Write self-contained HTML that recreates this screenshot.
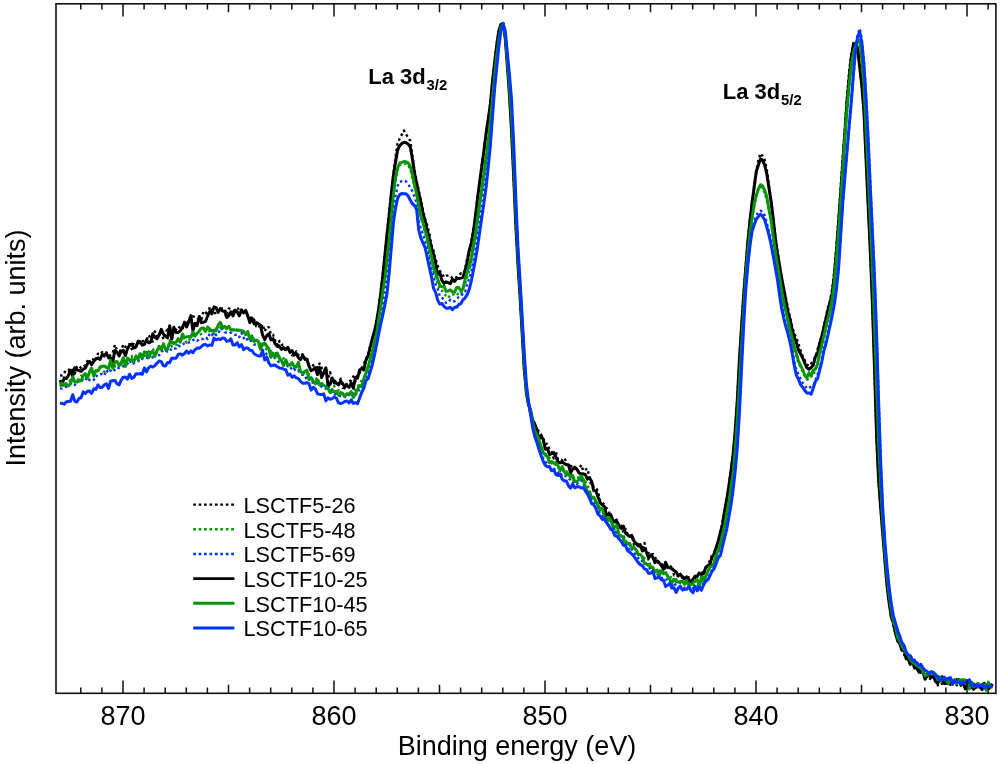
<!DOCTYPE html>
<html><head><meta charset="utf-8"><title>La 3d XPS</title>
<style>html,body{margin:0;padding:0;background:#fff}svg{display:block}text{font-family:"Liberation Sans",sans-serif;fill:#000}</style></head><body>
<svg width="1000" height="764" viewBox="0 0 1000 764">
<rect width="1000" height="764" fill="#fff"/>
<g fill="none" stroke-linejoin="round" stroke-linecap="butt">
<path d="M60.0 375.4 L62.1 375.5 L64.2 372.8 L66.3 369.9 L68.4 370.4 L70.5 367.9 L72.7 370.4 L74.8 373.6 L76.9 366.9 L79.0 365.6 L81.1 368.3 L83.2 367.0 L85.3 365.3 L87.4 361.1 L89.5 363.1 L91.6 364.6 L93.8 357.2 L95.9 359.1 L98.0 353.7 L100.1 354.7 L102.2 352.1 L104.3 356.4 L106.4 352.2 L108.5 356.3 L110.6 355.0 L112.7 353.1 L114.9 344.7 L117.0 350.2 L119.1 350.9 L121.2 350.5 L123.3 344.4 L125.4 346.9 L127.5 344.4 L129.6 344.1 L131.7 349.2 L133.8 342.4 L136.0 344.0 L138.1 346.1 L140.2 340.5 L142.3 341.1 L144.4 341.0 L146.5 340.0 L148.6 335.0 L150.7 338.3 L152.8 341.5 L154.9 331.4 L157.1 338.2 L159.2 335.0 L161.3 331.7 L163.4 339.3 L165.5 334.4 L167.6 327.3 L169.7 330.5 L171.8 331.2 L173.9 327.9 L176.0 329.8 L178.2 326.5 L180.3 328.0 L182.4 329.5 L184.5 321.8 L186.6 323.7 L188.7 320.6 L190.8 321.5 L192.9 316.3 L195.0 317.3 L197.1 317.5 L199.3 320.1 L201.4 320.0 L203.5 311.2 L205.6 312.0 L207.7 315.9 L209.8 306.7 L211.9 310.8 L214.0 311.2 L216.1 314.8 L218.2 312.3 L220.4 308.6 L222.5 308.4 L224.6 308.8 L226.7 314.6 L228.8 308.4 L230.9 309.0 L233.0 311.2 L235.1 309.9 L237.2 309.8 L239.3 307.1 L241.5 310.9 L243.6 309.9 L245.7 315.5 L247.8 315.1 L249.9 315.2 L252.0 320.2 L254.1 319.6 L256.2 326.2 L258.3 324.8 L260.4 328.6 L262.6 324.4 L264.7 331.4 L266.8 326.7 L268.9 327.4 L271.0 334.8 L273.1 334.8 L275.2 340.2 L277.3 348.9 L279.4 341.0 L281.5 343.6 L283.7 348.1 L285.8 350.7 L287.9 350.1 L290.0 351.3 L292.1 355.2 L294.2 355.4 L296.3 351.2 L298.4 355.1 L300.5 356.4 L302.6 354.2 L304.8 359.7 L306.9 357.6 L309.0 365.1 L311.1 364.2 L313.2 365.5 L315.3 364.9 L317.4 368.0 L319.5 363.4 L321.6 367.6 L323.7 373.9 L325.9 367.6 L328.0 378.8 L330.1 372.2 L332.2 381.8 L334.3 378.1 L336.4 384.6 L338.5 383.4 L340.6 378.7 L342.7 387.8 L344.8 388.2 L347.0 382.8 L349.1 381.2 L351.2 380.3 L353.3 376.4 L355.4 381.5 L357.5 374.5 L359.6 373.2 L361.7 367.9 L363.8 364.5 L365.9 358.3 L368.1 355.8 L370.2 345.6 L372.3 339.8 L374.4 330.9 L376.5 321.1 L378.6 308.7 L380.7 291.8 L382.8 274.5 L384.9 254.5 L387.0 233.6 L389.2 212.0 L391.3 191.6 L393.4 174.1 L395.5 157.2 L397.6 143.5 L399.7 138.5 L401.8 134.7 L403.9 130.4 L406.0 134.3 L408.1 137.4 L410.3 140.8 L412.4 156.5 L414.5 170.1 L416.6 181.3 L418.7 190.1 L420.8 201.0 L422.9 209.5 L425.0 218.4 L427.1 224.8 L429.2 232.7 L431.4 245.0 L433.5 250.6 L435.6 259.4 L437.7 265.8 L439.8 270.7 L441.9 273.1 L444.0 277.1 L446.1 275.6 L448.2 275.6 L450.3 275.6 L452.5 278.5 L454.6 277.6 L456.7 277.2 L458.8 275.2 L460.9 273.3 L463.0 277.0 L465.1 269.4 L467.2 258.4 L469.3 250.6 L471.4 240.7 L473.6 228.6 L475.7 213.3 L477.8 195.0 L479.9 180.4 L482.0 162.7 L484.1 148.9 L486.2 133.3 L488.3 118.2 L490.4 102.6 L492.5 83.3 L494.7 60.2 L496.8 42.9 L498.9 31.2 L501.0 22.5 L503.1 24.2 L505.2 38.5 L507.3 62.8 L509.4 93.0 L511.5 132.0 L513.6 175.5 L515.8 225.9 L517.9 262.6 L520.0 296.4 L522.1 331.2 L524.2 370.4 L526.3 391.2 L528.4 402.9 L530.5 414.2 L532.6 419.7 L534.7 426.0 L536.9 427.5 L539.0 432.0 L541.1 434.6 L543.2 438.2 L545.3 444.0 L547.4 443.9 L549.5 449.4 L551.6 451.7 L553.7 458.5 L555.8 451.3 L558.0 459.3 L560.1 458.5 L562.2 460.3 L564.3 458.0 L566.4 462.1 L568.5 466.8 L570.6 465.8 L572.7 467.5 L574.8 467.6 L576.9 472.1 L579.1 469.6 L581.2 464.9 L583.3 470.8 L585.4 469.6 L587.5 468.7 L589.6 478.8 L591.7 486.8 L593.8 486.8 L595.9 487.2 L598.0 491.7 L600.2 501.0 L602.3 502.1 L604.4 505.2 L606.5 508.1 L608.6 511.3 L610.7 516.3 L612.8 518.5 L614.9 520.4 L617.0 519.7 L619.1 526.4 L621.3 525.7 L623.4 532.8 L625.5 528.9 L627.6 534.0 L629.7 536.4 L631.8 534.9 L633.9 544.8 L636.0 546.0 L638.1 542.8 L640.2 548.0 L642.4 548.8 L644.5 542.9 L646.6 552.2 L648.7 553.1 L650.8 555.2 L652.9 553.9 L655.0 557.7 L657.1 559.6 L659.2 564.9 L661.3 564.2 L663.5 564.9 L665.6 570.3 L667.7 566.2 L669.8 567.8 L671.9 565.3 L674.0 575.3 L676.1 574.9 L678.2 576.1 L680.3 576.6 L682.4 576.2 L684.6 577.4 L686.7 576.8 L688.8 577.3 L690.9 578.0 L693.0 581.2 L695.1 577.9 L697.2 575.3 L699.3 572.7 L701.4 571.1 L703.5 574.4 L705.7 569.2 L707.8 565.1 L709.9 560.5 L712.0 555.1 L714.1 552.7 L716.2 549.2 L718.3 540.8 L720.4 531.8 L722.5 521.2 L724.6 510.7 L726.8 497.3 L728.9 485.4 L731.0 469.9 L733.1 454.5 L735.2 430.2 L737.3 398.9 L739.4 360.8 L741.5 325.4 L743.6 294.8 L745.7 267.6 L747.9 241.5 L750.0 219.1 L752.1 202.1 L754.2 187.3 L756.3 170.5 L758.4 160.2 L760.5 153.4 L762.6 156.1 L764.7 159.8 L766.8 169.3 L769.0 186.1 L771.1 199.1 L773.2 218.4 L775.3 236.7 L777.4 250.9 L779.5 264.2 L781.6 277.5 L783.7 286.9 L785.8 297.6 L787.9 307.4 L790.1 318.0 L792.2 327.2 L794.3 333.6 L796.4 338.0 L798.5 344.2 L800.6 350.2 L802.7 356.3 L804.8 360.4 L806.9 364.5 L809.0 366.1 L811.2 363.6 L813.3 361.1 L815.4 356.7 L817.5 349.7 L819.6 342.6 L821.7 335.8 L823.8 326.5 L825.9 317.2 L828.0 307.0 L830.1 300.7 L832.3 288.4 L834.4 270.4 L836.5 245.4 L838.6 217.6 L840.7 187.9 L842.8 156.5 L844.9 126.6 L847.0 96.5 L849.1 72.2 L851.2 54.7 L853.4 42.9 L855.5 42.1 L857.6 47.0 L859.7 66.8 L861.8 84.8 L863.9 110.3 L866.0 157.9 L868.1 203.0 L870.2 250.1 L872.3 301.2 L874.5 368.9 L876.6 436.6 L878.7 482.7 L880.8 509.7 L882.9 534.8 L885.0 562.6 L887.1 584.8 L889.2 601.7 L891.3 617.7 L893.4 625.9 L895.6 634.0 L897.7 641.5 L899.8 642.0 L901.9 648.4 L904.0 654.5 L906.1 658.3 L908.2 659.3 L910.3 664.8 L912.4 665.1 L914.5 663.9 L916.7 666.3 L918.8 672.0 L920.9 672.8 L923.0 668.9 L925.1 677.6 L927.2 677.1 L929.3 680.0 L931.4 676.9 L933.5 677.8 L935.6 676.5 L937.8 685.4 L939.9 679.6 L942.0 684.1 L944.1 679.3 L946.2 681.6 L948.3 677.7 L950.4 681.0 L952.5 684.5 L954.6 679.6 L956.7 685.3 L958.9 683.8 L961.0 680.8 L963.1 682.4 L965.2 682.7 L967.3 684.0 L969.4 683.1 L971.5 682.8 L973.6 684.6 L975.7 683.5 L977.8 683.3 L980.0 686.4 L982.1 688.6 L984.2 682.9 L986.3 686.5 L988.4 684.9 L990.5 684.2 L992.6 688.5" stroke="#000000" stroke-width="2.4" stroke-dasharray="2.5 2.9"/>
<path d="M60.0 384.4 L62.1 387.8 L64.2 382.3 L66.3 384.0 L68.4 381.9 L70.5 380.1 L72.7 382.1 L74.8 379.8 L76.9 380.6 L79.0 378.5 L81.1 375.6 L83.2 376.9 L85.3 376.4 L87.4 377.6 L89.5 372.9 L91.6 374.0 L93.8 369.7 L95.9 373.9 L98.0 369.5 L100.1 367.2 L102.2 370.1 L104.3 371.8 L106.4 365.5 L108.5 365.7 L110.6 365.6 L112.7 364.1 L114.9 366.5 L117.0 363.2 L119.1 362.7 L121.2 364.7 L123.3 361.1 L125.4 362.8 L127.5 359.1 L129.6 357.9 L131.7 355.8 L133.8 362.8 L136.0 357.5 L138.1 357.9 L140.2 356.6 L142.3 356.2 L144.4 355.2 L146.5 358.4 L148.6 351.4 L150.7 349.6 L152.8 350.0 L154.9 348.6 L157.1 352.2 L159.2 351.6 L161.3 347.1 L163.4 345.5 L165.5 346.9 L167.6 349.8 L169.7 340.2 L171.8 346.5 L173.9 342.4 L176.0 346.0 L178.2 340.8 L180.3 341.7 L182.4 338.4 L184.5 338.7 L186.6 342.8 L188.7 340.8 L190.8 337.4 L192.9 335.6 L195.0 332.6 L197.1 335.0 L199.3 334.9 L201.4 334.0 L203.5 333.2 L205.6 330.3 L207.7 331.8 L209.8 331.2 L211.9 333.2 L214.0 333.6 L216.1 328.6 L218.2 326.6 L220.4 327.6 L222.5 326.4 L224.6 326.3 L226.7 328.0 L228.8 326.4 L230.9 330.4 L233.0 329.5 L235.1 330.8 L237.2 330.4 L239.3 329.9 L241.5 330.2 L243.6 332.5 L245.7 332.8 L247.8 335.6 L249.9 336.7 L252.0 335.6 L254.1 340.4 L256.2 339.0 L258.3 342.1 L260.4 344.2 L262.6 342.0 L264.7 348.0 L266.8 349.6 L268.9 350.3 L271.0 351.2 L273.1 352.8 L275.2 353.0 L277.3 356.0 L279.4 356.8 L281.5 359.6 L283.7 358.3 L285.8 362.7 L287.9 363.8 L290.0 364.4 L292.1 364.8 L294.2 368.0 L296.3 364.3 L298.4 369.8 L300.5 370.5 L302.6 371.8 L304.8 373.3 L306.9 372.5 L309.0 374.7 L311.1 378.0 L313.2 379.0 L315.3 379.9 L317.4 377.7 L319.5 383.4 L321.6 386.1 L323.7 387.1 L325.9 386.9 L328.0 384.5 L330.1 391.0 L332.2 389.9 L334.3 386.1 L336.4 393.3 L338.5 390.3 L340.6 391.4 L342.7 393.2 L344.8 397.3 L347.0 393.6 L349.1 394.2 L351.2 396.2 L353.3 394.5 L355.4 389.4 L357.5 387.1 L359.6 382.9 L361.7 380.7 L363.8 378.4 L365.9 373.4 L368.1 366.4 L370.2 359.6 L372.3 350.1 L374.4 342.3 L376.5 333.1 L378.6 321.1 L380.7 307.5 L382.8 292.8 L384.9 277.3 L387.0 261.1 L389.2 239.7 L391.3 215.8 L393.4 195.1 L395.5 180.2 L397.6 170.2 L399.7 164.8 L401.8 164.0 L403.9 163.5 L406.0 163.9 L408.1 164.8 L410.3 169.7 L412.4 178.5 L414.5 186.9 L416.6 194.3 L418.7 209.3 L420.8 218.9 L422.9 223.7 L425.0 232.4 L427.1 241.3 L429.2 251.2 L431.4 262.3 L433.5 271.0 L435.6 277.3 L437.7 283.9 L439.8 289.8 L441.9 290.7 L444.0 293.4 L446.1 296.1 L448.2 298.0 L450.3 294.8 L452.5 294.5 L454.6 294.4 L456.7 295.5 L458.8 292.5 L460.9 293.5 L463.0 287.8 L465.1 283.8 L467.2 277.3 L469.3 271.2 L471.4 261.8 L473.6 248.5 L475.7 235.5 L477.8 221.0 L479.9 205.2 L482.0 189.8 L484.1 175.9 L486.2 159.7 L488.3 142.8 L490.4 123.0 L492.5 99.8 L494.7 75.2 L496.8 56.2 L498.9 38.1 L501.0 26.2 L503.1 24.2 L505.2 34.1 L507.3 58.5 L509.4 84.3 L511.5 114.6 L513.6 158.3 L515.8 211.6 L517.9 254.5 L520.0 287.7 L522.1 322.9 L524.2 361.3 L526.3 388.8 L528.4 404.0 L530.5 413.4 L532.6 422.9 L534.7 432.5 L536.9 436.6 L539.0 440.4 L541.1 447.2 L543.2 452.4 L545.3 453.7 L547.4 455.2 L549.5 457.9 L551.6 463.5 L553.7 462.7 L555.8 465.3 L558.0 467.5 L560.1 469.7 L562.2 469.4 L564.3 472.3 L566.4 471.3 L568.5 474.0 L570.6 474.5 L572.7 479.5 L574.8 477.9 L576.9 477.0 L579.1 477.9 L581.2 478.9 L583.3 482.7 L585.4 481.5 L587.5 485.4 L589.6 490.1 L591.7 498.9 L593.8 499.6 L595.9 501.1 L598.0 505.8 L600.2 511.4 L602.3 510.6 L604.4 513.3 L606.5 518.9 L608.6 520.5 L610.7 523.5 L612.8 524.1 L614.9 530.9 L617.0 533.1 L619.1 533.6 L621.3 536.3 L623.4 534.1 L625.5 541.1 L627.6 542.0 L629.7 545.3 L631.8 547.9 L633.9 548.3 L636.0 548.1 L638.1 553.7 L640.2 553.9 L642.4 556.7 L644.5 558.3 L646.6 560.7 L648.7 559.2 L650.8 567.0 L652.9 567.0 L655.0 570.0 L657.1 573.1 L659.2 571.2 L661.3 569.5 L663.5 572.5 L665.6 573.4 L667.7 575.9 L669.8 578.3 L671.9 576.0 L674.0 581.1 L676.1 579.1 L678.2 583.0 L680.3 582.9 L682.4 583.1 L684.6 583.9 L686.7 583.4 L688.8 583.4 L690.9 581.6 L693.0 584.2 L695.1 586.8 L697.2 586.1 L699.3 583.8 L701.4 581.4 L703.5 577.0 L705.7 577.5 L707.8 572.1 L709.9 568.6 L712.0 564.6 L714.1 561.0 L716.2 555.9 L718.3 550.7 L720.4 542.5 L722.5 534.3 L724.6 526.3 L726.8 514.0 L728.9 502.0 L731.0 488.7 L733.1 472.6 L735.2 450.5 L737.3 422.9 L739.4 386.7 L741.5 348.3 L743.6 311.1 L745.7 279.7 L747.9 253.2 L750.0 233.2 L752.1 216.9 L754.2 206.5 L756.3 195.0 L758.4 189.9 L760.5 186.8 L762.6 188.7 L764.7 193.0 L766.8 200.8 L769.0 210.2 L771.1 223.8 L773.2 236.9 L775.3 251.3 L777.4 266.1 L779.5 278.7 L781.6 291.3 L783.7 303.0 L785.8 311.9 L787.9 321.5 L790.1 331.1 L792.2 340.4 L794.3 350.6 L796.4 357.4 L798.5 362.4 L800.6 367.8 L802.7 371.8 L804.8 375.1 L806.9 379.6 L809.0 379.3 L811.2 375.9 L813.3 375.6 L815.4 369.4 L817.5 363.6 L819.6 355.7 L821.7 347.3 L823.8 337.8 L825.9 329.1 L828.0 319.5 L830.1 310.7 L832.3 299.8 L834.4 282.2 L836.5 259.6 L838.6 233.0 L840.7 202.0 L842.8 169.1 L844.9 139.7 L847.0 110.8 L849.1 85.6 L851.2 65.7 L853.4 51.8 L855.5 45.9 L857.6 41.7 L859.7 46.4 L861.8 61.3 L863.9 86.9 L866.0 127.2 L868.1 171.5 L870.2 217.7 L872.3 266.4 L874.5 322.3 L876.6 386.3 L878.7 443.1 L880.8 488.3 L882.9 522.7 L885.0 553.2 L887.1 577.2 L889.2 594.7 L891.3 609.4 L893.4 620.6 L895.6 626.7 L897.7 633.5 L899.8 640.2 L901.9 646.0 L904.0 650.3 L906.1 651.9 L908.2 656.9 L910.3 661.2 L912.4 662.9 L914.5 663.8 L916.7 664.4 L918.8 668.5 L920.9 668.3 L923.0 669.0 L925.1 670.9 L927.2 675.5 L929.3 674.9 L931.4 677.4 L933.5 675.8 L935.6 678.7 L937.8 677.1 L939.9 678.3 L942.0 682.9 L944.1 680.8 L946.2 679.3 L948.3 680.4 L950.4 681.4 L952.5 683.1 L954.6 680.8 L956.7 679.1 L958.9 681.6 L961.0 682.3 L963.1 682.7 L965.2 684.8 L967.3 683.6 L969.4 684.7 L971.5 682.1 L973.6 685.9 L975.7 688.5 L977.8 687.0 L980.0 686.4 L982.1 686.2 L984.2 688.8 L986.3 684.5 L988.4 685.8 L990.5 686.7 L992.6 687.2" stroke="#069406" stroke-width="2.4" stroke-dasharray="2.5 2.9"/>
<path d="M60.0 388.2 L62.1 388.6 L64.2 386.9 L66.3 386.8 L68.4 385.6 L70.5 383.3 L72.7 384.3 L74.8 385.0 L76.9 381.3 L79.0 381.7 L81.1 382.3 L83.2 378.8 L85.3 380.1 L87.4 377.3 L89.5 380.1 L91.6 381.2 L93.8 380.0 L95.9 375.6 L98.0 376.4 L100.1 374.6 L102.2 373.8 L104.3 375.4 L106.4 370.1 L108.5 373.1 L110.6 370.6 L112.7 372.1 L114.9 369.4 L117.0 367.3 L119.1 368.1 L121.2 368.0 L123.3 366.2 L125.4 366.1 L127.5 363.8 L129.6 360.4 L131.7 364.5 L133.8 363.4 L136.0 361.8 L138.1 360.9 L140.2 361.7 L142.3 358.6 L144.4 357.4 L146.5 357.5 L148.6 359.0 L150.7 354.1 L152.8 357.5 L154.9 353.8 L157.1 352.3 L159.2 355.3 L161.3 352.4 L163.4 349.7 L165.5 350.5 L167.6 351.8 L169.7 351.5 L171.8 348.1 L173.9 348.7 L176.0 348.4 L178.2 345.5 L180.3 346.3 L182.4 344.9 L184.5 343.3 L186.6 342.6 L188.7 342.6 L190.8 341.8 L192.9 340.0 L195.0 339.4 L197.1 341.0 L199.3 338.8 L201.4 339.1 L203.5 338.8 L205.6 337.1 L207.7 339.0 L209.8 333.4 L211.9 335.2 L214.0 332.6 L216.1 335.2 L218.2 334.2 L220.4 328.0 L222.5 329.5 L224.6 332.2 L226.7 332.8 L228.8 333.3 L230.9 332.6 L233.0 334.1 L235.1 335.0 L237.2 334.5 L239.3 337.1 L241.5 332.7 L243.6 338.2 L245.7 336.6 L247.8 340.9 L249.9 340.5 L252.0 341.1 L254.1 344.7 L256.2 344.2 L258.3 345.6 L260.4 346.0 L262.6 349.9 L264.7 352.1 L266.8 354.4 L268.9 353.9 L271.0 357.2 L273.1 356.9 L275.2 358.1 L277.3 360.6 L279.4 362.7 L281.5 361.8 L283.7 363.3 L285.8 364.7 L287.9 366.4 L290.0 366.0 L292.1 370.2 L294.2 369.0 L296.3 371.5 L298.4 370.6 L300.5 373.6 L302.6 374.9 L304.8 374.9 L306.9 380.1 L309.0 378.8 L311.1 382.5 L313.2 382.5 L315.3 381.4 L317.4 383.2 L319.5 385.9 L321.6 386.6 L323.7 388.0 L325.9 388.8 L328.0 387.6 L330.1 391.4 L332.2 389.3 L334.3 394.6 L336.4 393.9 L338.5 394.8 L340.6 396.4 L342.7 397.6 L344.8 395.1 L347.0 394.6 L349.1 395.2 L351.2 392.8 L353.3 393.3 L355.4 395.9 L357.5 390.1 L359.6 390.2 L361.7 384.6 L363.8 382.8 L365.9 377.6 L368.1 371.8 L370.2 364.8 L372.3 357.7 L374.4 348.1 L376.5 338.4 L378.6 326.7 L380.7 315.3 L382.8 303.1 L384.9 292.0 L387.0 278.0 L389.2 258.6 L391.3 231.9 L393.4 209.5 L395.5 195.9 L397.6 186.1 L399.7 181.9 L401.8 181.1 L403.9 180.5 L406.0 181.4 L408.1 184.1 L410.3 187.7 L412.4 191.4 L414.5 196.6 L416.6 202.5 L418.7 220.9 L420.8 228.4 L422.9 234.0 L425.0 240.7 L427.1 249.2 L429.2 258.6 L431.4 268.4 L433.5 276.9 L435.6 284.3 L437.7 288.6 L439.8 296.3 L441.9 297.3 L444.0 300.3 L446.1 303.0 L448.2 302.5 L450.3 299.7 L452.5 301.5 L454.6 301.3 L456.7 298.5 L458.8 297.2 L460.9 296.6 L463.0 292.9 L465.1 291.9 L467.2 283.5 L469.3 278.7 L471.4 270.6 L473.6 259.6 L475.7 247.3 L477.8 233.3 L479.9 218.6 L482.0 204.7 L484.1 188.6 L486.2 173.4 L488.3 155.6 L490.4 135.4 L492.5 108.9 L494.7 83.0 L496.8 61.9 L498.9 43.5 L501.0 28.8 L503.1 23.8 L505.2 33.3 L507.3 55.6 L509.4 77.6 L511.5 105.7 L513.6 149.6 L515.8 204.3 L517.9 249.5 L520.0 283.0 L522.1 318.1 L524.2 355.4 L526.3 384.7 L528.4 401.5 L530.5 413.0 L532.6 423.7 L534.7 431.8 L536.9 440.1 L539.0 444.9 L541.1 451.4 L543.2 458.2 L545.3 461.1 L547.4 464.5 L549.5 466.5 L551.6 467.8 L553.7 468.9 L555.8 470.0 L558.0 472.8 L560.1 471.7 L562.2 476.3 L564.3 475.8 L566.4 476.2 L568.5 478.4 L570.6 480.1 L572.7 482.3 L574.8 481.3 L576.9 484.0 L579.1 481.5 L581.2 480.1 L583.3 484.4 L585.4 485.7 L587.5 491.5 L589.6 496.8 L591.7 500.2 L593.8 501.0 L595.9 505.0 L598.0 511.5 L600.2 512.5 L602.3 515.0 L604.4 519.2 L606.5 523.8 L608.6 524.9 L610.7 526.0 L612.8 528.8 L614.9 531.7 L617.0 532.6 L619.1 534.4 L621.3 538.4 L623.4 539.6 L625.5 543.2 L627.6 545.8 L629.7 551.2 L631.8 549.3 L633.9 552.6 L636.0 554.8 L638.1 557.8 L640.2 560.9 L642.4 561.1 L644.5 562.8 L646.6 563.8 L648.7 566.7 L650.8 570.4 L652.9 571.4 L655.0 571.6 L657.1 574.0 L659.2 575.9 L661.3 577.9 L663.5 577.9 L665.6 579.7 L667.7 579.2 L669.8 581.5 L671.9 586.4 L674.0 582.7 L676.1 586.1 L678.2 587.5 L680.3 587.1 L682.4 586.8 L684.6 587.9 L686.7 588.1 L688.8 588.1 L690.9 585.8 L693.0 588.0 L695.1 586.7 L697.2 586.3 L699.3 586.3 L701.4 585.5 L703.5 583.6 L705.7 579.3 L707.8 577.7 L709.9 574.6 L712.0 571.0 L714.1 567.4 L716.2 562.0 L718.3 557.0 L720.4 551.8 L722.5 543.1 L724.6 535.2 L726.8 525.0 L728.9 514.3 L731.0 501.0 L733.1 486.1 L735.2 467.3 L737.3 443.0 L739.4 407.8 L741.5 365.9 L743.6 323.4 L745.7 287.3 L747.9 263.3 L750.0 243.3 L752.1 229.7 L754.2 222.0 L756.3 215.5 L758.4 211.9 L760.5 210.7 L762.6 211.5 L764.7 215.5 L766.8 222.8 L769.0 231.3 L771.1 240.2 L773.2 252.2 L775.3 264.6 L777.4 276.6 L779.5 290.3 L781.6 304.7 L783.7 314.9 L785.8 323.5 L787.9 331.7 L790.1 340.3 L792.2 350.5 L794.3 361.4 L796.4 369.9 L798.5 374.2 L800.6 379.1 L802.7 383.0 L804.8 385.5 L806.9 388.6 L809.0 388.1 L811.2 386.4 L813.3 385.5 L815.4 380.1 L817.5 374.5 L819.6 368.4 L821.7 360.0 L823.8 350.5 L825.9 340.5 L828.0 332.5 L830.1 323.4 L832.3 313.1 L834.4 301.8 L836.5 288.1 L838.6 266.7 L840.7 234.7 L842.8 203.7 L844.9 176.8 L847.0 152.4 L849.1 129.1 L851.2 105.1 L853.4 76.1 L855.5 51.9 L857.6 35.3 L859.7 28.4 L861.8 39.5 L863.9 61.1 L866.0 92.0 L868.1 134.1 L870.2 180.3 L872.3 226.0 L874.5 271.4 L876.6 330.7 L878.7 400.5 L880.8 463.7 L882.9 510.7 L885.0 543.5 L887.1 568.3 L889.2 587.3 L891.3 603.0 L893.4 615.2 L895.6 624.2 L897.7 630.9 L899.8 637.3 L901.9 642.1 L904.0 648.2 L906.1 653.4 L908.2 655.3 L910.3 655.9 L912.4 658.3 L914.5 659.8 L916.7 665.0 L918.8 664.1 L920.9 668.2 L923.0 669.0 L925.1 671.8 L927.2 672.4 L929.3 672.4 L931.4 673.5 L933.5 674.9 L935.6 676.0 L937.8 676.0 L939.9 677.3 L942.0 679.9 L944.1 676.7 L946.2 679.5 L948.3 678.6 L950.4 680.3 L952.5 681.5 L954.6 680.7 L956.7 682.0 L958.9 679.4 L961.0 682.8 L963.1 681.1 L965.2 682.8 L967.3 682.6 L969.4 679.6 L971.5 682.3 L973.6 684.2 L975.7 686.6 L977.8 685.7 L980.0 686.0 L982.1 684.0 L984.2 687.4 L986.3 687.8 L988.4 685.7 L990.5 685.4 L992.6 683.8" stroke="#0033ff" stroke-width="2.4" stroke-dasharray="2.5 2.9"/>
<path d="M60.0 380.1 L62.1 384.7 L64.2 377.9 L66.3 378.7 L68.4 375.6 L70.5 370.2 L72.7 376.3 L74.8 367.7 L76.9 369.9 L79.0 370.5 L81.1 371.4 L83.2 369.2 L85.3 368.2 L87.4 363.9 L89.5 361.4 L91.6 364.6 L93.8 361.4 L95.9 358.8 L98.0 358.0 L100.1 359.5 L102.2 354.5 L104.3 355.2 L106.4 353.4 L108.5 358.0 L110.6 357.8 L112.7 361.8 L114.9 350.4 L117.0 352.0 L119.1 355.9 L121.2 351.6 L123.3 350.4 L125.4 355.6 L127.5 348.6 L129.6 345.3 L131.7 344.0 L133.8 348.0 L136.0 347.1 L138.1 341.2 L140.2 341.5 L142.3 345.2 L144.4 344.4 L146.5 339.9 L148.6 342.8 L150.7 341.8 L152.8 333.9 L154.9 337.4 L157.1 338.8 L159.2 334.9 L161.3 329.4 L163.4 334.1 L165.5 336.3 L167.6 337.9 L169.7 325.7 L171.8 339.3 L173.9 327.2 L176.0 332.5 L178.2 332.5 L180.3 330.8 L182.4 327.4 L184.5 322.5 L186.6 327.0 L188.7 322.0 L190.8 315.6 L192.9 330.6 L195.0 323.3 L197.1 325.7 L199.3 316.5 L201.4 322.7 L203.5 322.2 L205.6 321.3 L207.7 315.8 L209.8 311.5 L211.9 313.8 L214.0 306.9 L216.1 307.6 L218.2 312.3 L220.4 308.6 L222.5 311.0 L224.6 311.2 L226.7 317.5 L228.8 315.7 L230.9 311.9 L233.0 315.9 L235.1 310.2 L237.2 311.7 L239.3 315.8 L241.5 309.7 L243.6 313.0 L245.7 310.4 L247.8 315.9 L249.9 322.7 L252.0 318.2 L254.1 323.8 L256.2 322.5 L258.3 323.6 L260.4 325.2 L262.6 335.1 L264.7 339.6 L266.8 335.7 L268.9 333.9 L271.0 340.0 L273.1 338.7 L275.2 344.1 L277.3 344.5 L279.4 346.4 L281.5 349.3 L283.7 347.5 L285.8 349.7 L287.9 347.3 L290.0 352.4 L292.1 350.5 L294.2 355.2 L296.3 353.5 L298.4 357.6 L300.5 359.6 L302.6 355.3 L304.8 358.4 L306.9 359.5 L309.0 366.2 L311.1 370.6 L313.2 369.7 L315.3 367.7 L317.4 374.6 L319.5 367.2 L321.6 377.6 L323.7 372.7 L325.9 367.9 L328.0 385.9 L330.1 384.3 L332.2 378.0 L334.3 383.1 L336.4 383.1 L338.5 385.0 L340.6 380.9 L342.7 383.6 L344.8 386.8 L347.0 385.5 L349.1 387.4 L351.2 382.9 L353.3 388.3 L355.4 377.6 L357.5 378.3 L359.6 370.0 L361.7 368.5 L363.8 370.0 L365.9 360.4 L368.1 355.8 L370.2 347.0 L372.3 338.5 L374.4 331.5 L376.5 322.1 L378.6 309.3 L380.7 293.9 L382.8 276.0 L384.9 255.3 L387.0 234.6 L389.2 215.4 L391.3 194.2 L393.4 175.5 L395.5 162.5 L397.6 150.0 L399.7 145.5 L401.8 143.6 L403.9 142.2 L406.0 142.7 L408.1 144.1 L410.3 147.1 L412.4 158.8 L414.5 173.2 L416.6 182.7 L418.7 192.9 L420.8 201.5 L422.9 213.1 L425.0 220.4 L427.1 229.7 L429.2 237.4 L431.4 247.7 L433.5 254.0 L435.6 263.2 L437.7 274.4 L439.8 272.5 L441.9 280.4 L444.0 283.4 L446.1 281.8 L448.2 282.6 L450.3 283.6 L452.5 279.3 L454.6 281.4 L456.7 278.5 L458.8 278.5 L460.9 278.1 L463.0 277.3 L465.1 270.4 L467.2 261.8 L469.3 249.9 L471.4 243.4 L473.6 230.1 L475.7 214.3 L477.8 196.3 L479.9 180.3 L482.0 165.2 L484.1 149.5 L486.2 132.4 L488.3 118.7 L490.4 103.9 L492.5 81.0 L494.7 62.1 L496.8 44.7 L498.9 30.5 L501.0 24.4 L503.1 23.3 L505.2 37.9 L507.3 65.1 L509.4 94.1 L511.5 130.7 L513.6 174.6 L515.8 224.8 L517.9 263.1 L520.0 295.6 L522.1 332.2 L524.2 368.5 L526.3 392.2 L528.4 404.5 L530.5 409.7 L532.6 420.2 L534.7 423.8 L536.9 429.8 L539.0 438.9 L541.1 436.0 L543.2 439.6 L545.3 449.2 L547.4 448.4 L549.5 454.5 L551.6 453.6 L553.7 452.5 L555.8 456.6 L558.0 461.8 L560.1 462.8 L562.2 462.0 L564.3 463.6 L566.4 464.7 L568.5 464.9 L570.6 472.8 L572.7 469.0 L574.8 467.0 L576.9 469.3 L579.1 473.0 L581.2 473.9 L583.3 473.8 L585.4 474.7 L587.5 479.1 L589.6 477.6 L591.7 481.7 L593.8 490.6 L595.9 491.0 L598.0 496.9 L600.2 502.8 L602.3 504.9 L604.4 506.6 L606.5 515.1 L608.6 514.3 L610.7 514.6 L612.8 520.2 L614.9 522.1 L617.0 521.6 L619.1 526.5 L621.3 528.4 L623.4 526.2 L625.5 533.1 L627.6 535.0 L629.7 536.6 L631.8 535.6 L633.9 540.8 L636.0 543.5 L638.1 545.8 L640.2 544.6 L642.4 551.0 L644.5 548.2 L646.6 552.6 L648.7 558.2 L650.8 554.9 L652.9 557.1 L655.0 562.7 L657.1 560.7 L659.2 562.6 L661.3 565.5 L663.5 569.1 L665.6 562.3 L667.7 567.1 L669.8 567.9 L671.9 568.8 L674.0 570.6 L676.1 571.9 L678.2 575.9 L680.3 574.1 L682.4 577.5 L684.6 579.0 L686.7 576.8 L688.8 579.3 L690.9 583.0 L693.0 579.3 L695.1 576.1 L697.2 576.5 L699.3 573.1 L701.4 574.6 L703.5 573.7 L705.7 567.4 L707.8 565.5 L709.9 564.2 L712.0 557.2 L714.1 554.0 L716.2 547.2 L718.3 541.1 L720.4 532.3 L722.5 524.6 L724.6 511.0 L726.8 499.0 L728.9 485.7 L731.0 471.0 L733.1 454.4 L735.2 431.1 L737.3 400.4 L739.4 359.9 L741.5 327.5 L743.6 296.1 L745.7 268.4 L747.9 240.8 L750.0 220.6 L752.1 202.5 L754.2 186.8 L756.3 171.5 L758.4 165.0 L760.5 158.9 L762.6 160.1 L764.7 165.1 L766.8 173.8 L769.0 188.3 L771.1 201.5 L773.2 218.9 L775.3 237.6 L777.4 252.8 L779.5 265.6 L781.6 277.6 L783.7 288.8 L785.8 300.5 L787.9 312.0 L790.1 319.3 L792.2 329.9 L794.3 336.9 L796.4 342.7 L798.5 350.1 L800.6 353.7 L802.7 358.1 L804.8 363.1 L806.9 367.8 L809.0 369.4 L811.2 367.5 L813.3 365.2 L815.4 356.6 L817.5 354.0 L819.6 343.9 L821.7 336.7 L823.8 328.3 L825.9 318.7 L828.0 309.8 L830.1 302.0 L832.3 292.5 L834.4 275.2 L836.5 249.8 L838.6 221.7 L840.7 192.5 L842.8 162.0 L844.9 132.5 L847.0 101.3 L849.1 78.5 L851.2 57.9 L853.4 44.9 L855.5 43.3 L857.6 48.6 L859.7 67.1 L861.8 85.7 L863.9 111.3 L866.0 158.7 L868.1 204.9 L870.2 249.2 L872.3 301.4 L874.5 368.2 L876.6 437.0 L878.7 481.6 L880.8 509.6 L882.9 535.7 L885.0 561.9 L887.1 586.6 L889.2 603.6 L891.3 617.0 L893.4 623.3 L895.6 633.5 L897.7 640.9 L899.8 643.9 L901.9 650.2 L904.0 649.2 L906.1 658.8 L908.2 658.7 L910.3 664.3 L912.4 660.7 L914.5 668.1 L916.7 667.9 L918.8 671.9 L920.9 669.8 L923.0 671.9 L925.1 679.3 L927.2 674.0 L929.3 675.4 L931.4 677.2 L933.5 676.3 L935.6 681.6 L937.8 683.2 L939.9 678.5 L942.0 676.7 L944.1 683.4 L946.2 683.6 L948.3 683.4 L950.4 684.4 L952.5 680.3 L954.6 682.1 L956.7 679.8 L958.9 679.9 L961.0 685.4 L963.1 682.1 L965.2 688.8 L967.3 684.3 L969.4 683.0 L971.5 686.6 L973.6 689.3 L975.7 687.0 L977.8 683.6 L980.0 687.3 L982.1 689.6 L984.2 685.4 L986.3 684.8 L988.4 688.8 L990.5 686.8 L992.6 684.0" stroke="#000000" stroke-width="3"/>
<path d="M60.0 384.9 L62.1 383.1 L64.2 385.2 L66.3 383.9 L68.4 386.0 L70.5 384.0 L72.7 376.8 L74.8 381.5 L76.9 382.1 L79.0 380.1 L81.1 380.9 L83.2 375.7 L85.3 373.7 L87.4 378.2 L89.5 371.8 L91.6 368.0 L93.8 376.1 L95.9 370.4 L98.0 370.7 L100.1 366.9 L102.2 366.3 L104.3 366.0 L106.4 367.4 L108.5 368.7 L110.6 360.4 L112.7 368.1 L114.9 361.9 L117.0 361.4 L119.1 365.5 L121.2 362.6 L123.3 357.7 L125.4 366.4 L127.5 358.0 L129.6 360.3 L131.7 359.4 L133.8 362.0 L136.0 356.0 L138.1 359.3 L140.2 353.6 L142.3 358.0 L144.4 352.0 L146.5 352.3 L148.6 357.8 L150.7 352.6 L152.8 351.2 L154.9 356.4 L157.1 350.4 L159.2 346.3 L161.3 349.8 L163.4 343.7 L165.5 349.4 L167.6 348.8 L169.7 343.0 L171.8 342.1 L173.9 343.5 L176.0 342.2 L178.2 338.7 L180.3 342.2 L182.4 334.0 L184.5 337.7 L186.6 336.9 L188.7 336.4 L190.8 337.2 L192.9 332.0 L195.0 336.2 L197.1 333.2 L199.3 331.0 L201.4 328.2 L203.5 327.9 L205.6 331.4 L207.7 327.0 L209.8 329.1 L211.9 331.1 L214.0 330.2 L216.1 330.8 L218.2 324.9 L220.4 322.3 L222.5 328.1 L224.6 326.3 L226.7 328.9 L228.8 326.3 L230.9 330.1 L233.0 329.7 L235.1 330.0 L237.2 330.0 L239.3 330.3 L241.5 330.6 L243.6 331.5 L245.7 334.6 L247.8 331.6 L249.9 339.6 L252.0 336.4 L254.1 341.4 L256.2 340.1 L258.3 341.3 L260.4 349.2 L262.6 344.2 L264.7 343.1 L266.8 346.2 L268.9 348.8 L271.0 357.3 L273.1 353.4 L275.2 356.9 L277.3 353.1 L279.4 358.4 L281.5 360.8 L283.7 365.5 L285.8 359.9 L287.9 364.8 L290.0 365.3 L292.1 362.7 L294.2 366.6 L296.3 367.0 L298.4 362.3 L300.5 371.7 L302.6 372.8 L304.8 371.4 L306.9 370.2 L309.0 379.6 L311.1 377.6 L313.2 381.2 L315.3 383.8 L317.4 379.8 L319.5 385.0 L321.6 383.4 L323.7 385.3 L325.9 386.7 L328.0 388.3 L330.1 392.7 L332.2 391.2 L334.3 391.6 L336.4 392.4 L338.5 395.1 L340.6 392.4 L342.7 394.0 L344.8 395.4 L347.0 393.7 L349.1 394.2 L351.2 391.7 L353.3 397.5 L355.4 393.9 L357.5 389.4 L359.6 385.5 L361.7 387.0 L363.8 378.8 L365.9 373.2 L368.1 367.1 L370.2 359.2 L372.3 352.5 L374.4 342.4 L376.5 334.4 L378.6 320.0 L380.7 307.2 L382.8 291.3 L384.9 278.4 L387.0 259.7 L389.2 239.2 L391.3 216.5 L393.4 194.6 L395.5 178.0 L397.6 168.2 L399.7 163.0 L401.8 162.4 L403.9 161.6 L406.0 161.7 L408.1 162.9 L410.3 166.4 L412.4 174.4 L414.5 184.8 L416.6 193.9 L418.7 204.6 L420.8 215.1 L422.9 222.2 L425.0 230.1 L427.1 236.9 L429.2 246.9 L431.4 255.5 L433.5 266.7 L435.6 273.0 L437.7 279.1 L439.8 285.4 L441.9 286.9 L444.0 286.1 L446.1 291.4 L448.2 291.0 L450.3 289.9 L452.5 292.0 L454.6 292.3 L456.7 287.4 L458.8 287.5 L460.9 291.1 L463.0 288.9 L465.1 279.4 L467.2 272.1 L469.3 265.6 L471.4 256.5 L473.6 244.3 L475.7 232.1 L477.8 216.0 L479.9 201.0 L482.0 187.8 L484.1 171.7 L486.2 156.6 L488.3 140.6 L490.4 122.1 L492.5 97.9 L494.7 74.6 L496.8 54.6 L498.9 39.6 L501.0 27.1 L503.1 23.3 L505.2 34.4 L507.3 58.7 L509.4 84.5 L511.5 116.2 L513.6 159.0 L515.8 211.3 L517.9 253.9 L520.0 287.0 L522.1 323.2 L524.2 360.6 L526.3 389.6 L528.4 402.4 L530.5 410.6 L532.6 421.7 L534.7 430.8 L536.9 434.4 L539.0 440.3 L541.1 446.4 L543.2 452.7 L545.3 455.1 L547.4 456.4 L549.5 462.7 L551.6 461.5 L553.7 463.2 L555.8 462.7 L558.0 465.6 L560.1 470.5 L562.2 466.6 L564.3 471.7 L566.4 475.0 L568.5 474.2 L570.6 477.4 L572.7 475.4 L574.8 481.5 L576.9 481.4 L579.1 479.6 L581.2 475.7 L583.3 479.5 L585.4 487.1 L587.5 491.8 L589.6 492.1 L591.7 498.0 L593.8 497.2 L595.9 501.6 L598.0 505.3 L600.2 509.5 L602.3 508.1 L604.4 516.8 L606.5 520.5 L608.6 517.6 L610.7 519.8 L612.8 526.4 L614.9 526.7 L617.0 525.3 L619.1 535.2 L621.3 536.1 L623.4 537.1 L625.5 545.4 L627.6 543.2 L629.7 543.4 L631.8 547.6 L633.9 547.1 L636.0 549.9 L638.1 554.6 L640.2 554.5 L642.4 556.8 L644.5 563.7 L646.6 563.8 L648.7 565.5 L650.8 566.6 L652.9 568.1 L655.0 571.9 L657.1 570.1 L659.2 575.8 L661.3 570.8 L663.5 573.8 L665.6 572.6 L667.7 576.3 L669.8 579.6 L671.9 582.9 L674.0 579.3 L676.1 581.9 L678.2 581.9 L680.3 581.6 L682.4 581.1 L684.6 584.3 L686.7 580.5 L688.8 584.8 L690.9 584.6 L693.0 582.8 L695.1 581.4 L697.2 579.6 L699.3 585.8 L701.4 577.3 L703.5 581.2 L705.7 576.5 L707.8 571.5 L709.9 566.6 L712.0 566.4 L714.1 563.3 L716.2 554.9 L718.3 550.2 L720.4 544.2 L722.5 534.5 L724.6 526.1 L726.8 513.0 L728.9 502.0 L731.0 486.6 L733.1 473.1 L735.2 449.6 L737.3 419.9 L739.4 384.6 L741.5 346.8 L743.6 311.8 L745.7 277.8 L747.9 252.9 L750.0 232.8 L752.1 217.5 L754.2 204.2 L756.3 195.4 L758.4 188.8 L760.5 184.7 L762.6 186.0 L764.7 190.2 L766.8 196.7 L769.0 209.8 L771.1 219.8 L773.2 236.0 L775.3 250.7 L777.4 263.9 L779.5 276.8 L781.6 290.3 L783.7 301.5 L785.8 311.5 L787.9 320.3 L790.1 329.8 L792.2 337.6 L794.3 347.2 L796.4 353.4 L798.5 361.1 L800.6 365.6 L802.7 369.4 L804.8 375.7 L806.9 377.7 L809.0 372.9 L811.2 376.1 L813.3 370.1 L815.4 369.1 L817.5 364.3 L819.6 353.0 L821.7 345.2 L823.8 336.0 L825.9 327.2 L828.0 318.5 L830.1 310.3 L832.3 297.8 L834.4 282.8 L836.5 257.5 L838.6 231.5 L840.7 201.2 L842.8 169.0 L844.9 136.8 L847.0 109.1 L849.1 85.2 L851.2 66.3 L853.4 53.1 L855.5 45.7 L857.6 40.7 L859.7 40.5 L861.8 57.1 L863.9 84.2 L866.0 128.6 L868.1 172.0 L870.2 218.0 L872.3 265.8 L874.5 324.7 L876.6 386.1 L878.7 445.2 L880.8 488.2 L882.9 523.5 L885.0 553.0 L887.1 575.9 L889.2 595.3 L891.3 609.7 L893.4 621.8 L895.6 627.0 L897.7 637.5 L899.8 641.3 L901.9 645.6 L904.0 649.4 L906.1 653.2 L908.2 655.5 L910.3 659.1 L912.4 662.3 L914.5 663.8 L916.7 663.2 L918.8 667.2 L920.9 667.6 L923.0 671.2 L925.1 676.0 L927.2 674.8 L929.3 674.2 L931.4 672.6 L933.5 673.9 L935.6 674.1 L937.8 679.6 L939.9 677.2 L942.0 679.4 L944.1 678.5 L946.2 680.4 L948.3 683.5 L950.4 679.6 L952.5 680.7 L954.6 680.0 L956.7 683.7 L958.9 680.1 L961.0 680.1 L963.1 679.8 L965.2 680.0 L967.3 684.2 L969.4 688.9 L971.5 682.0 L973.6 686.6 L975.7 685.8 L977.8 683.6 L980.0 685.5 L982.1 685.6 L984.2 684.7 L986.3 690.1 L988.4 682.1 L990.5 686.9 L992.6 686.8" stroke="#069406" stroke-width="3"/>
<path d="M60.0 402.8 L62.1 403.5 L64.2 404.2 L66.3 401.8 L68.4 401.5 L70.5 401.2 L72.7 394.7 L74.8 401.2 L76.9 402.0 L79.0 398.5 L81.1 397.7 L83.2 391.8 L85.3 393.6 L87.4 391.3 L89.5 391.0 L91.6 393.4 L93.8 388.8 L95.9 389.4 L98.0 384.8 L100.1 387.6 L102.2 387.3 L104.3 384.8 L106.4 383.9 L108.5 388.5 L110.6 381.2 L112.7 380.7 L114.9 380.4 L117.0 383.7 L119.1 384.8 L121.2 380.2 L123.3 377.2 L125.4 376.9 L127.5 379.2 L129.6 374.2 L131.7 378.4 L133.8 377.4 L136.0 373.8 L138.1 374.1 L140.2 373.5 L142.3 374.3 L144.4 368.0 L146.5 371.9 L148.6 367.8 L150.7 366.1 L152.8 367.1 L154.9 365.6 L157.1 363.1 L159.2 361.0 L161.3 361.6 L163.4 365.7 L165.5 366.0 L167.6 362.4 L169.7 362.7 L171.8 358.2 L173.9 358.3 L176.0 358.2 L178.2 354.5 L180.3 353.8 L182.4 355.2 L184.5 353.5 L186.6 351.0 L188.7 353.2 L190.8 350.9 L192.9 352.7 L195.0 349.7 L197.1 348.1 L199.3 348.2 L201.4 346.6 L203.5 344.7 L205.6 344.4 L207.7 346.0 L209.8 344.9 L211.9 345.4 L214.0 338.1 L216.1 339.8 L218.2 338.9 L220.4 339.5 L222.5 338.1 L224.6 338.2 L226.7 341.4 L228.8 340.9 L230.9 338.9 L233.0 345.0 L235.1 345.1 L237.2 342.7 L239.3 346.7 L241.5 344.5 L243.6 349.6 L245.7 348.0 L247.8 348.0 L249.9 350.2 L252.0 350.5 L254.1 353.8 L256.2 355.0 L258.3 356.0 L260.4 356.1 L262.6 350.9 L264.7 360.0 L266.8 357.1 L268.9 362.9 L271.0 365.9 L273.1 365.3 L275.2 365.1 L277.3 366.7 L279.4 367.9 L281.5 368.2 L283.7 369.2 L285.8 369.7 L287.9 375.3 L290.0 374.0 L292.1 377.2 L294.2 375.9 L296.3 377.9 L298.4 378.6 L300.5 381.2 L302.6 383.3 L304.8 383.3 L306.9 382.7 L309.0 383.7 L311.1 390.1 L313.2 387.4 L315.3 388.7 L317.4 393.8 L319.5 394.4 L321.6 394.6 L323.7 393.9 L325.9 400.9 L328.0 397.9 L330.1 399.2 L332.2 398.6 L334.3 397.0 L336.4 398.2 L338.5 402.8 L340.6 403.6 L342.7 402.9 L344.8 401.4 L347.0 401.0 L349.1 403.0 L351.2 399.8 L353.3 403.5 L355.4 402.5 L357.5 403.8 L359.6 397.9 L361.7 392.4 L363.8 388.3 L365.9 380.6 L368.1 378.7 L370.2 371.8 L372.3 364.7 L374.4 355.3 L376.5 345.2 L378.6 334.4 L380.7 324.2 L382.8 315.0 L384.9 304.6 L387.0 293.8 L389.2 272.6 L391.3 247.9 L393.4 222.9 L395.5 208.3 L397.6 198.3 L399.7 194.7 L401.8 193.4 L403.9 193.7 L406.0 193.7 L408.1 195.9 L410.3 200.2 L412.4 203.6 L414.5 205.6 L416.6 209.4 L418.7 229.9 L420.8 237.8 L422.9 242.9 L425.0 247.4 L427.1 256.6 L429.2 266.8 L431.4 276.6 L433.5 288.2 L435.6 292.4 L437.7 300.2 L439.8 304.1 L441.9 303.4 L444.0 306.3 L446.1 308.2 L448.2 308.2 L450.3 307.4 L452.5 309.6 L454.6 307.3 L456.7 307.2 L458.8 304.5 L460.9 303.6 L463.0 299.8 L465.1 297.8 L467.2 294.7 L469.3 289.1 L471.4 280.5 L473.6 269.2 L475.7 258.3 L477.8 245.2 L479.9 230.6 L482.0 216.1 L484.1 201.9 L486.2 186.5 L488.3 166.7 L490.4 145.1 L492.5 116.3 L494.7 88.0 L496.8 66.9 L498.9 46.2 L501.0 30.8 L503.1 23.9 L505.2 30.7 L507.3 52.3 L509.4 74.2 L511.5 98.8 L513.6 141.9 L515.8 197.8 L517.9 246.1 L520.0 280.1 L522.1 315.9 L524.2 352.1 L526.3 383.3 L528.4 401.0 L530.5 414.2 L532.6 427.1 L534.7 436.4 L536.9 442.5 L539.0 449.5 L541.1 455.4 L543.2 461.3 L545.3 465.3 L547.4 466.8 L549.5 466.7 L551.6 470.8 L553.7 469.6 L555.8 474.4 L558.0 475.6 L560.1 473.9 L562.2 479.3 L564.3 480.9 L566.4 481.0 L568.5 485.8 L570.6 488.2 L572.7 483.9 L574.8 487.8 L576.9 486.8 L579.1 486.7 L581.2 488.1 L583.3 487.6 L585.4 491.1 L587.5 494.0 L589.6 498.3 L591.7 503.6 L593.8 504.8 L595.9 508.6 L598.0 514.3 L600.2 515.9 L602.3 519.4 L604.4 518.1 L606.5 522.7 L608.6 525.6 L610.7 529.2 L612.8 530.6 L614.9 535.7 L617.0 536.4 L619.1 539.0 L621.3 541.5 L623.4 545.2 L625.5 545.6 L627.6 550.8 L629.7 552.1 L631.8 554.0 L633.9 556.2 L636.0 559.3 L638.1 562.4 L640.2 564.6 L642.4 565.8 L644.5 568.9 L646.6 569.7 L648.7 573.5 L650.8 573.1 L652.9 571.2 L655.0 578.5 L657.1 577.9 L659.2 577.0 L661.3 580.0 L663.5 580.1 L665.6 586.5 L667.7 585.3 L669.8 583.2 L671.9 588.1 L674.0 587.7 L676.1 592.5 L678.2 588.1 L680.3 586.2 L682.4 590.1 L684.6 589.4 L686.7 589.3 L688.8 586.4 L690.9 590.7 L693.0 592.8 L695.1 586.4 L697.2 590.8 L699.3 586.9 L701.4 590.3 L703.5 585.1 L705.7 581.3 L707.8 580.0 L709.9 575.9 L712.0 571.1 L714.1 568.9 L716.2 563.5 L718.3 557.7 L720.4 555.5 L722.5 546.5 L724.6 537.8 L726.8 528.8 L728.9 517.0 L731.0 504.7 L733.1 490.1 L735.2 471.2 L737.3 447.5 L739.4 413.2 L741.5 369.8 L743.6 326.6 L745.7 290.0 L747.9 264.5 L750.0 245.6 L752.1 231.2 L754.2 224.7 L756.3 219.3 L758.4 216.5 L760.5 214.2 L762.6 216.4 L764.7 220.0 L766.8 227.0 L769.0 235.3 L771.1 244.4 L773.2 256.0 L775.3 267.5 L777.4 279.4 L779.5 294.5 L781.6 308.2 L783.7 318.1 L785.8 326.5 L787.9 333.7 L790.1 342.5 L792.2 353.4 L794.3 365.9 L796.4 375.3 L798.5 379.4 L800.6 384.8 L802.7 387.2 L804.8 390.5 L806.9 393.0 L809.0 392.9 L811.2 394.1 L813.3 387.9 L815.4 381.4 L817.5 378.8 L819.6 370.6 L821.7 362.1 L823.8 351.2 L825.9 344.0 L828.0 334.9 L830.1 325.4 L832.3 315.1 L834.4 303.7 L836.5 288.7 L838.6 268.0 L840.7 234.9 L842.8 202.4 L844.9 176.6 L847.0 151.5 L849.1 126.1 L851.2 102.6 L853.4 74.3 L855.5 50.5 L857.6 36.8 L859.7 31.9 L861.8 42.5 L863.9 64.3 L866.0 98.3 L868.1 138.3 L870.2 185.2 L872.3 230.1 L874.5 277.9 L876.6 335.6 L878.7 404.6 L880.8 466.1 L882.9 511.9 L885.0 543.6 L887.1 567.6 L889.2 588.3 L891.3 604.6 L893.4 616.1 L895.6 623.4 L897.7 630.9 L899.8 636.3 L901.9 642.8 L904.0 645.3 L906.1 651.8 L908.2 654.8 L910.3 655.9 L912.4 659.8 L914.5 661.3 L916.7 662.5 L918.8 665.4 L920.9 664.4 L923.0 668.1 L925.1 670.3 L927.2 671.4 L929.3 673.8 L931.4 671.6 L933.5 672.3 L935.6 675.9 L937.8 677.1 L939.9 680.3 L942.0 678.7 L944.1 677.1 L946.2 680.2 L948.3 678.2 L950.4 677.6 L952.5 684.2 L954.6 681.1 L956.7 681.9 L958.9 681.9 L961.0 684.1 L963.1 681.9 L965.2 683.6 L967.3 680.5 L969.4 680.2 L971.5 685.1 L973.6 686.0 L975.7 685.3 L977.8 685.6 L980.0 685.8 L982.1 684.4 L984.2 687.9 L986.3 686.5 L988.4 686.3 L990.5 686.1 L992.6 687.1" stroke="#0033ff" stroke-width="3"/>
</g>
<rect x="56.0" y="3.8" width="939.9" height="689.5" fill="none" stroke="#111" stroke-width="1.6"/>
<path d="M988.1 3.8 v5.8 M988.1 693.3 v-5.8 M967.0 3.8 v12.8 M967.0 693.3 v-12.8 M945.9 3.8 v5.8 M945.9 693.3 v-5.8 M924.8 3.8 v5.8 M924.8 693.3 v-5.8 M903.7 3.8 v5.8 M903.7 693.3 v-5.8 M882.6 3.8 v5.8 M882.6 693.3 v-5.8 M861.5 3.8 v8.5 M861.5 693.3 v-8.5 M840.4 3.8 v5.8 M840.4 693.3 v-5.8 M819.3 3.8 v5.8 M819.3 693.3 v-5.8 M798.2 3.8 v5.8 M798.2 693.3 v-5.8 M777.1 3.8 v5.8 M777.1 693.3 v-5.8 M756.0 3.8 v12.8 M756.0 693.3 v-12.8 M734.9 3.8 v5.8 M734.9 693.3 v-5.8 M713.8 3.8 v5.8 M713.8 693.3 v-5.8 M692.7 3.8 v5.8 M692.7 693.3 v-5.8 M671.6 3.8 v5.8 M671.6 693.3 v-5.8 M650.5 3.8 v8.5 M650.5 693.3 v-8.5 M629.4 3.8 v5.8 M629.4 693.3 v-5.8 M608.3 3.8 v5.8 M608.3 693.3 v-5.8 M587.2 3.8 v5.8 M587.2 693.3 v-5.8 M566.1 3.8 v5.8 M566.1 693.3 v-5.8 M545.0 3.8 v12.8 M545.0 693.3 v-12.8 M523.9 3.8 v5.8 M523.9 693.3 v-5.8 M502.8 3.8 v5.8 M502.8 693.3 v-5.8 M481.7 3.8 v5.8 M481.7 693.3 v-5.8 M460.6 3.8 v5.8 M460.6 693.3 v-5.8 M439.5 3.8 v8.5 M439.5 693.3 v-8.5 M418.4 3.8 v5.8 M418.4 693.3 v-5.8 M397.3 3.8 v5.8 M397.3 693.3 v-5.8 M376.2 3.8 v5.8 M376.2 693.3 v-5.8 M355.1 3.8 v5.8 M355.1 693.3 v-5.8 M334.0 3.8 v12.8 M334.0 693.3 v-12.8 M312.9 3.8 v5.8 M312.9 693.3 v-5.8 M291.8 3.8 v5.8 M291.8 693.3 v-5.8 M270.7 3.8 v5.8 M270.7 693.3 v-5.8 M249.6 3.8 v5.8 M249.6 693.3 v-5.8 M228.5 3.8 v8.5 M228.5 693.3 v-8.5 M207.4 3.8 v5.8 M207.4 693.3 v-5.8 M186.3 3.8 v5.8 M186.3 693.3 v-5.8 M165.2 3.8 v5.8 M165.2 693.3 v-5.8 M144.1 3.8 v5.8 M144.1 693.3 v-5.8 M123.0 3.8 v12.8 M123.0 693.3 v-12.8 M101.9 3.8 v5.8 M101.9 693.3 v-5.8 M80.8 3.8 v5.8 M80.8 693.3 v-5.8" stroke="#111" stroke-width="1.5" fill="none"/>
<text x="123.0" y="725" font-size="27" text-anchor="middle">870</text>
<text x="334.0" y="725" font-size="27" text-anchor="middle">860</text>
<text x="545.0" y="725" font-size="27" text-anchor="middle">850</text>
<text x="756.0" y="725" font-size="27" text-anchor="middle">840</text>
<text x="967.0" y="725" font-size="27" text-anchor="middle">830</text>
<text x="517" y="755" font-size="27" text-anchor="middle">Binding energy (eV)</text>
<text transform="translate(25 348) rotate(-90)" font-size="27" text-anchor="middle">Intensity (arb. units)</text>
<text x="368.3" y="84.4" font-size="22" font-weight="bold">La 3d<tspan font-size="14.8" dx="0.8" dy="5.7">3/2</tspan></text>
<text x="722.8" y="99.1" font-size="22" font-weight="bold">La 3d<tspan font-size="14.8" dx="0.8" dy="5.7">5/2</tspan></text>
<path d="M193.2 504.6 H234.4" stroke="#000000" stroke-width="2.4" stroke-dasharray="2.7 2.73" fill="none"/>
<text x="243.5" y="512.9" font-size="21.7">LSCTF5-26</text>
<path d="M193.2 529.3 H234.4" stroke="#069406" stroke-width="2.4" stroke-dasharray="2.7 2.73" fill="none"/>
<text x="243.5" y="537.6" font-size="21.7">LSCTF5-48</text>
<path d="M193.2 554.0 H234.4" stroke="#0033ff" stroke-width="2.4" stroke-dasharray="2.7 2.73" fill="none"/>
<text x="243.5" y="562.3" font-size="21.7">LSCTF5-69</text>
<path d="M193.2 578.6 H234.4" stroke="#000000" stroke-width="2.9" fill="none"/>
<text x="243.5" y="586.9" font-size="21.7">LSCTF10-25</text>
<path d="M193.2 603.3 H234.4" stroke="#069406" stroke-width="2.9" fill="none"/>
<text x="243.5" y="611.6" font-size="21.7">LSCTF10-45</text>
<path d="M193.2 628.0 H234.4" stroke="#0033ff" stroke-width="2.9" fill="none"/>
<text x="243.5" y="636.3" font-size="21.7">LSCTF10-65</text>
</svg></body></html>
